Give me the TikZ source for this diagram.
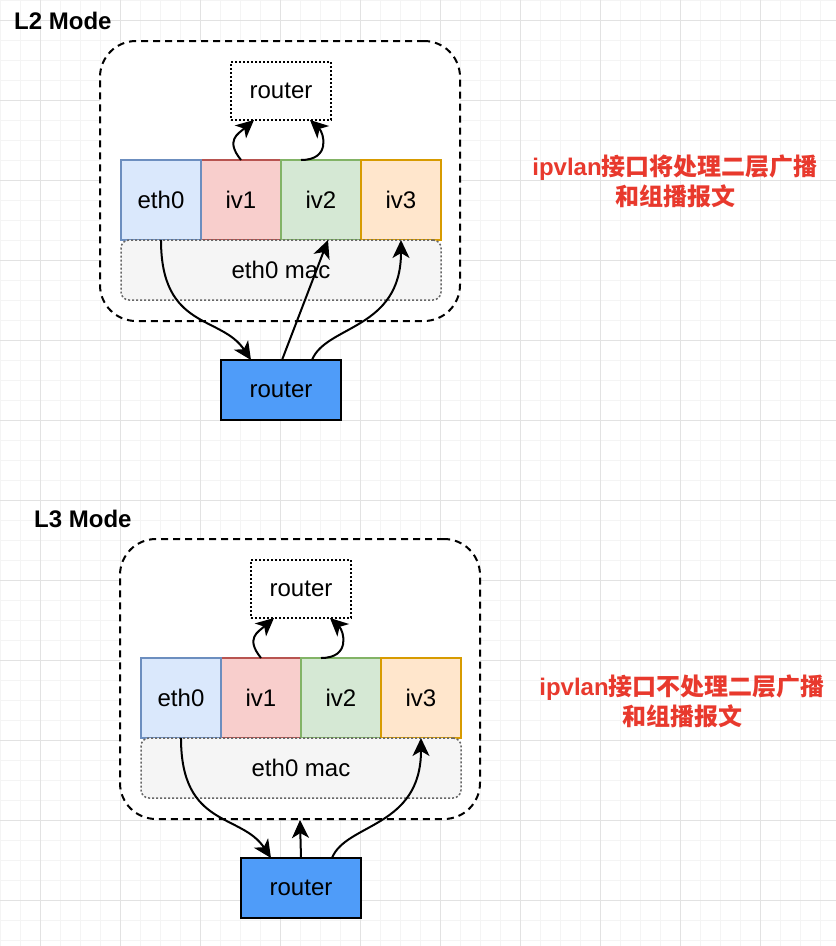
\documentclass[tikz,border=0pt]{standalone}
\usepackage{fontspec}
\setmainfont{Liberation Sans}
\newfontfamily\cjk{Noto Sans CJK SC}
\usetikzlibrary{positioning,arrows.meta}

\definecolor{gridminor}{HTML}{F4F4F4}
\definecolor{gridmajor}{HTML}{E2E2E2}
\definecolor{ethfill}{HTML}{DAE8FC}
\definecolor{ethline}{HTML}{6C8EBF}
\definecolor{ivafill}{HTML}{F8CECC}
\definecolor{ivaline}{HTML}{B85450}
\definecolor{ivbfill}{HTML}{D5E8D4}
\definecolor{ivbline}{HTML}{82B366}
\definecolor{ivcfill}{HTML}{FFE6CC}
\definecolor{ivcline}{HTML}{D79B00}
\definecolor{macfill}{HTML}{F5F5F5}
\definecolor{macline}{HTML}{666666}
\definecolor{routerblue}{HTML}{4F9CF9}
\definecolor{notered}{HTML}{E8392D}

\tikzset{
  lbl/.style={font=\fontsize{24}{30}\selectfont},
  title/.style={font=\fontsize{24}{30}\selectfont\bfseries, anchor=west, inner sep=0pt},
  panel/.style={draw, fill=white, line width=2pt, dash pattern=on 7pt off 5pt,
    rounded corners=36pt, minimum width=360pt, minimum height=280pt},
  port/.style={draw, line width=2pt, minimum width=80pt, minimum height=80pt,
    inner sep=0pt, outer sep=0pt, lbl},
  macbox/.style={draw=macline, fill=macfill, line width=1.5pt, dash pattern=on 2pt off 2pt,
    rounded corners=8pt, minimum width=320pt, minimum height=60pt, outer sep=0pt, lbl},
  vrouter/.style={draw, fill=white, line width=2pt, dash pattern=on 2pt off 2pt,
    minimum width=100pt, minimum height=58pt, outer sep=0pt, lbl},
  prouter/.style={draw, fill=routerblue, line width=2pt,
    minimum width=120pt, minimum height=60pt, outer sep=0pt, lbl},
  note/.style={text=notered, align=center, font=\fontsize{24}{30}\selectfont\bfseries},
  link/.style={line width=2pt, ->},
}

\begin{document}
\begin{tikzpicture}[x=1pt, y=-1pt, >={Stealth[length=18pt,width=17pt,inset=5pt]}]
  \useasboundingbox (0,0) rectangle (836,946);
  % background grid
  \foreach \x in {0,20,...,820} \draw[gridminor, line width=1pt] (\x,0) -- (\x,946);
  \foreach \y in {0,20,...,940} \draw[gridminor, line width=1pt] (0,\y) -- (836,\y);
  \foreach \x in {40,120,...,760} \draw[gridmajor, line width=1pt] (\x,0) -- (\x,946);
  \foreach \y in {20,100,...,900} \draw[gridmajor, line width=1pt] (0,\y) -- (836,\y);

  % L2 mode
  \node[title] (a-title) at (14,21) {L2 Mode};
  \node[panel] (a-panel) at (280,181) {};
  \node[port, draw=ivaline, fill=ivafill] (a-iv1) at (241,200) {iv1};
  \node[port, draw=ethline, fill=ethfill, left=0pt of a-iv1] (a-eth0) {eth0};
  \node[port, draw=ivbline, fill=ivbfill, right=0pt of a-iv1] (a-iv2) {iv2};
  \node[port, draw=ivcline, fill=ivcfill, right=0pt of a-iv2] (a-iv3) {iv3};
  \node[macbox, below=0pt of a-iv1.south east] (a-mac) {eth0 mac};
  \node[vrouter, above=40pt of a-iv1.north east] (a-top) {router};
  \node[prouter, below=60pt of a-mac] (a-router) {router};
  \node[note] (a-note) at (675,181) {ipvlan{\cjk 接口将处理二层广播}\\{\cjk 和组播报文}};

  \draw[link] (a-iv1.north) .. controls +(-16,-20) and +(-16,14) .. ([xshift=-27pt]a-top.south);
  \draw[link] ([xshift=-20pt]a-iv2.north) .. controls +(30,0) and +(14,13) .. ([xshift=29pt]a-top.south);
  \draw[link] (a-eth0.south) .. controls +(0,90) and +(-30,-45) .. ([xshift=-30pt]a-router.north);
  \draw[link] ([xshift=1pt]a-router.north) -- ([xshift=7pt]a-iv2.south);
  \draw[link] ([xshift=31pt]a-router.north) .. controls +(14,-35) and +(0,90) .. (a-iv3.south);

  % L3 mode
  \begin{scope}[shift={(20,498)}]
    \node[title] (b-title) at (14,21) {L3 Mode};
    \node[panel] (b-panel) at (280,181) {};
    \node[port, draw=ivaline, fill=ivafill] (b-iv1) at (241,200) {iv1};
    \node[port, draw=ethline, fill=ethfill, left=0pt of b-iv1] (b-eth0) {eth0};
    \node[port, draw=ivbline, fill=ivbfill, right=0pt of b-iv1] (b-iv2) {iv2};
    \node[port, draw=ivcline, fill=ivcfill, right=0pt of b-iv2] (b-iv3) {iv3};
    \node[macbox, below=0pt of b-iv1.south east] (b-mac) {eth0 mac};
    \node[vrouter, above=40pt of b-iv1.north east] (b-top) {router};
    \node[prouter, below=60pt of b-mac] (b-router) {router};
    \node[note] (b-note) at (662,203) {ipvlan{\cjk 接口不处理二层广播}\\{\cjk 和组播报文}};

    \draw[link] (b-iv1.north) .. controls +(-16,-20) and +(-16,14) .. ([xshift=-27pt]b-top.south);
    \draw[link] ([xshift=-20pt]b-iv2.north) .. controls +(30,0) and +(14,13) .. ([xshift=29pt]b-top.south);
    \draw[link] (b-eth0.south) .. controls +(0,90) and +(-30,-45) .. ([xshift=-30pt]b-router.north);
    \draw[link] (b-router.north) -- (b-panel.south);
    \draw[link] ([xshift=31pt]b-router.north) .. controls +(14,-35) and +(0,90) .. (b-iv3.south);
  \end{scope}
\end{tikzpicture}
\end{document}
